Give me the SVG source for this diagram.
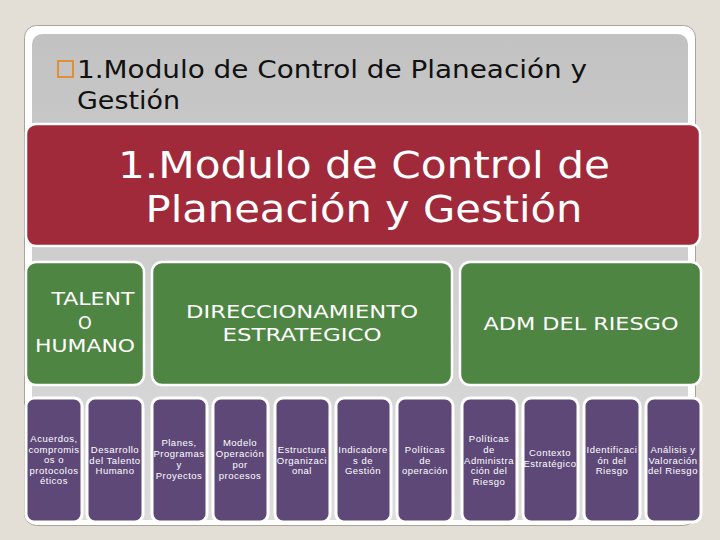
<svg xmlns="http://www.w3.org/2000/svg" width="720" height="540" viewBox="0 0 720 540">
<defs>
<linearGradient id="panel" x1="0" y1="0" x2="0" y2="1">
<stop offset="0" stop-color="#C2C2C2"/>
<stop offset="1" stop-color="#DCDCDC"/>
</linearGradient>
<style>
.red{fill:#A0293A;stroke:#FFFFFF;stroke-width:2.5}
.green{fill:#4F8543;stroke:#FFFFFF;stroke-width:2.5}
.purple{fill:#5E4878;stroke:#FFFFFF;stroke-width:3}
.t1{font-family:"DejaVu Sans Condensed","DejaVu Sans","Liberation Sans",sans-serif;font-size:25.5px;fill:#111111}
.big{font-family:"DejaVu Sans","Liberation Sans",sans-serif;font-size:38px;fill:#FFFFFF;text-anchor:middle}
.mid{font-family:"DejaVu Sans","Liberation Sans",sans-serif;font-size:17.5px;fill:#FFFFFF;text-anchor:middle}
.sm{font-family:"Liberation Sans",Arial,sans-serif;font-size:9.5px;fill:#FFFFFF;text-anchor:middle;letter-spacing:0.5px}
</style>
</defs>
<rect x="0" y="0" width="720" height="540" fill="#E4DFD6"/>
<rect x="24.5" y="25.5" width="671" height="500" rx="12" fill="#FFFFFF" stroke="#A8A49C" stroke-width="1"/>
<rect x="32" y="34" width="656" height="486" rx="10" fill="url(#panel)"/>
<g id="title">
<rect x="58" y="61" width="15" height="16" fill="none" stroke="#E08A2E" stroke-width="1.8"/>
<text class="t1" x="77" y="78" textLength="510" lengthAdjust="spacingAndGlyphs">1.Modulo de Control de Planeación y</text>
<text class="t1" x="77" y="108.5" textLength="103" lengthAdjust="spacingAndGlyphs">Gestión</text>
</g>
<g id="banner">
<rect class="red" x="26" y="124" width="674" height="122" rx="10"/>
<text class="big" x="364" y="178" textLength="492" lengthAdjust="spacingAndGlyphs">1.Modulo de Control de</text>
<text class="big" x="364" y="222" textLength="437" lengthAdjust="spacingAndGlyphs">Planeación y Gestión</text>
</g>
<g id="talento">
<rect class="green" x="26" y="262" width="118" height="123" rx="10"/>
<text class="mid" x="93" y="305" textLength="83" lengthAdjust="spacingAndGlyphs">TALENT</text>
<text class="mid" x="85" y="329">O</text>
<text class="mid" x="85" y="352" textLength="100" lengthAdjust="spacingAndGlyphs">HUMANO</text>
</g>
<g id="direccionamiento">
<rect class="green" x="152" y="262" width="300" height="123" rx="10"/>
<text class="mid" x="302" y="318" textLength="232" lengthAdjust="spacingAndGlyphs">DIRECCIONAMIENTO</text>
<text class="mid" x="302" y="341" textLength="159" lengthAdjust="spacingAndGlyphs">ESTRATEGICO</text>
</g>
<g id="riesgo">
<rect class="green" x="460" y="262" width="241" height="123" rx="10"/>
<text class="mid" x="581" y="330" textLength="195" lengthAdjust="spacingAndGlyphs">ADM DEL RIESGO</text>
</g>
<g id="acuerdos">
<rect class="purple" x="26" y="398" width="56" height="124" rx="8"/>
<text class="sm" x="54" y="442">Acuerdos,</text>
<text class="sm" x="54" y="453">compromis</text>
<text class="sm" x="54" y="463">os o</text>
<text class="sm" x="54" y="474">protocolos</text>
<text class="sm" x="54" y="484">éticos</text>
</g>
<g id="desarrollo">
<rect class="purple" x="87" y="398" width="56" height="124" rx="8"/>
<text class="sm" x="115" y="453">Desarrollo</text>
<text class="sm" x="115" y="464">del Talento</text>
<text class="sm" x="115" y="474">Humano</text>
</g>
<g id="planes">
<rect class="purple" x="152" y="398" width="55" height="124" rx="8"/>
<text class="sm" x="179" y="446">Planes,</text>
<text class="sm" x="179" y="457">Programas</text>
<text class="sm" x="179" y="468">y</text>
<text class="sm" x="179" y="479">Proyectos</text>
</g>
<g id="modelo">
<rect class="purple" x="213" y="398" width="55" height="124" rx="8"/>
<text class="sm" x="240" y="446">Modelo</text>
<text class="sm" x="240" y="457">Operación</text>
<text class="sm" x="240" y="468">por</text>
<text class="sm" x="240" y="479">procesos</text>
</g>
<g id="estructura">
<rect class="purple" x="275" y="398" width="55" height="124" rx="8"/>
<text class="sm" x="302" y="453">Estructura</text>
<text class="sm" x="302" y="464">Organizaci</text>
<text class="sm" x="302" y="474">onal</text>
</g>
<g id="indicadores">
<rect class="purple" x="336" y="398" width="55" height="124" rx="8"/>
<text class="sm" x="363" y="453">Indicadore</text>
<text class="sm" x="363" y="464">s de</text>
<text class="sm" x="363" y="474">Gestión</text>
</g>
<g id="politicas-operacion">
<rect class="purple" x="397" y="398" width="56" height="124" rx="8"/>
<text class="sm" x="425" y="453">Políticas</text>
<text class="sm" x="425" y="464">de</text>
<text class="sm" x="425" y="474">operación</text>
</g>
<g id="politicas-riesgo">
<rect class="purple" x="462" y="398" width="55" height="124" rx="8"/>
<text class="sm" x="489" y="442">Políticas</text>
<text class="sm" x="489" y="453">de</text>
<text class="sm" x="489" y="464">Administra</text>
<text class="sm" x="489" y="474">ción del</text>
<text class="sm" x="489" y="485">Riesgo</text>
</g>
<g id="contexto">
<rect class="purple" x="523" y="398" width="55" height="124" rx="8"/>
<text class="sm" x="550" y="456">Contexto</text>
<text class="sm" x="550" y="467">Estratégico</text>
</g>
<g id="identificacion">
<rect class="purple" x="584" y="398" width="56" height="124" rx="8"/>
<text class="sm" x="612" y="453">Identificaci</text>
<text class="sm" x="612" y="464">ón del</text>
<text class="sm" x="612" y="474">Riesgo</text>
</g>
<g id="analisis">
<rect class="purple" x="646" y="398" width="55" height="124" rx="8"/>
<text class="sm" x="673" y="453">Análisis y</text>
<text class="sm" x="673" y="464">Valoración</text>
<text class="sm" x="673" y="474">del Riesgo</text>
</g>
<g id="connectors"></g>
</svg>
